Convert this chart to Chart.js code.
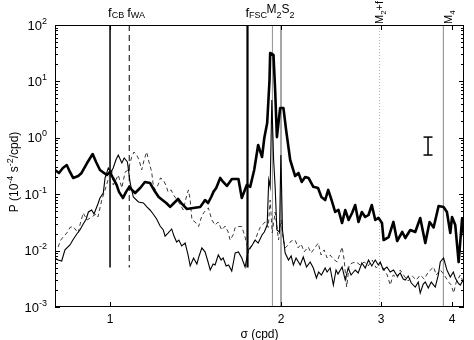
<!DOCTYPE html>
<html>
<head>
<meta charset="utf-8">
<script src="https://cdn.jsdelivr.net/npm/chart.js@4.4.1/dist/chart.umd.min.js"></script>
<style>
  html, body { margin: 0; padding: 0; background: #fff; }
  #wrap { width: 474px; height: 340px; }
</style>
</head>
<body>
<div id="wrap"><canvas id="spec" width="474" height="340"></canvas></div>
<script>
// ─── Spectra: frequency sigma (cpd) and power P ──────────────────────────────

const sigmaThick = [
  0.800, 0.813, 0.826, 0.839, 0.850, 0.861, 0.879, 0.891, 0.911, 0.932,
  0.945, 0.960, 0.987, 1.000, 1.012, 1.027, 1.037, 1.054, 1.067, 1.081,
  1.093, 1.107, 1.130, 1.152, 1.176, 1.195, 1.218, 1.243, 1.256, 1.276,
  1.296, 1.318, 1.339, 1.365, 1.401, 1.441, 1.458, 1.470, 1.488, 1.507,
  1.521, 1.538, 1.563, 1.582, 1.606, 1.639, 1.683, 1.706, 1.741, 1.765,
  1.794, 1.823, 1.852, 1.869, 1.891, 1.909, 1.914, 1.940, 1.953, 1.967,
  1.978, 1.993, 2.020, 2.042, 2.076, 2.118, 2.147, 2.175, 2.206, 2.236,
  2.280, 2.324, 2.356, 2.392, 2.422, 2.455, 2.491, 2.525, 2.562, 2.595,
  2.631, 2.668, 2.702, 2.738, 2.776, 2.814, 2.852, 2.890, 2.931, 2.970,
  3.012, 3.032, 3.094, 3.155, 3.203, 3.270, 3.310, 3.378, 3.447, 3.517,
  3.590, 3.653, 3.713, 3.789, 3.866, 3.919, 3.973, 4.001, 4.054, 4.110,
  4.167, 4.205,
];
const powerThick = [
  0.269, 0.238, 0.292, 0.329, 0.248, 0.194, 0.210, 0.238, 0.357, 0.516,
  0.372, 0.269, 0.219, 0.248, 0.194, 0.146, 0.110, 0.0856, 0.110, 0.135,
  0.119, 0.105, 0.129, 0.165, 0.158, 0.119, 0.0892, 0.0757, 0.0698, 0.0594,
  0.0698, 0.0822, 0.0671, 0.0547, 0.057, 0.0594, 0.0698, 0.0789, 0.0698, 0.0892,
  0.110, 0.129, 0.194, 0.165, 0.140, 0.186, 0.186, 0.0856, 0.146, 0.135,
  0.269, 0.745, 0.456, 0.992, 1.83, 10.6, 31.9, 29.4, 7.05, 1.03,
  1.69, 3.37, 3.37, 1.37, 0.404, 0.210, 0.238, 0.165, 0.202, 0.194,
  0.135, 0.129, 0.0892, 0.0789, 0.119, 0.0789, 0.0484, 0.0525, 0.0308, 0.0525,
  0.0349, 0.0465, 0.0644, 0.0322, 0.0484, 0.0394, 0.0428, 0.0644, 0.0349, 0.0379,
  0.0308, 0.0154, 0.0174, 0.0322, 0.0148, 0.0214, 0.0167, 0.0232, 0.0214, 0.0379,
  0.0136, 0.0322, 0.0257, 0.0618, 0.0594, 0.0484, 0.0205, 0.0394, 0.0284, 0.00627,
  0.0364, 0.0174,
];

const sigmaThin = [
  0.800, 0.810, 0.822, 0.833, 0.850, 0.860, 0.874, 0.885, 0.897, 0.908,
  0.916, 0.928, 0.937, 0.952, 0.960, 0.973, 0.980, 0.993, 1.004, 1.013,
  1.024, 1.034, 1.049, 1.059, 1.073, 1.085, 1.099, 1.122, 1.145, 1.161,
  1.176, 1.191, 1.208, 1.225, 1.241, 1.250, 1.265, 1.284, 1.296, 1.310,
  1.322, 1.337, 1.356, 1.372, 1.384, 1.403, 1.422, 1.435, 1.451, 1.470,
  1.488, 1.501, 1.519, 1.531, 1.551, 1.569, 1.582, 1.601, 1.617, 1.638,
  1.661, 1.683, 1.706, 1.729, 1.752, 1.776, 1.801, 1.823, 1.852, 1.869,
  1.891, 1.903, 1.914, 1.927, 1.941, 1.953, 1.967, 1.988, 1.999, 2.012,
  2.034, 2.062, 2.084, 2.103, 2.126, 2.162, 2.189, 2.218, 2.251, 2.280,
  2.309, 2.330, 2.356, 2.392, 2.411, 2.441, 2.473, 2.500, 2.520, 2.562,
  2.595, 2.626, 2.657, 2.702, 2.735, 2.776, 2.814, 2.852, 2.890, 2.931,
  2.967, 2.991, 3.028, 3.073, 3.114, 3.156, 3.204, 3.243, 3.283, 3.310,
  3.350, 3.392, 3.447, 3.489, 3.517, 3.560, 3.590, 3.634, 3.678, 3.738,
  3.784, 3.815, 3.866, 3.919, 3.973, 4.022, 4.054, 4.103, 4.137, 4.187,
];
const powerThin = [
  0.00740, 0.00681, 0.00654, 0.0103, 0.0126, 0.0154, 0.0197, 0.0232, 0.0296, 0.0364,
  0.0484, 0.0525, 0.0446, 0.0671, 0.0856, 0.105, 0.194, 0.292, 0.248, 0.292,
  0.404, 0.495, 0.357, 0.438, 0.372, 0.158, 0.0892, 0.0727, 0.0698, 0.0594,
  0.0525, 0.0446, 0.0364, 0.0273, 0.0232, 0.0181, 0.0205, 0.0242, 0.0181, 0.0142,
  0.0154, 0.0121, 0.0136, 0.00836, 0.00534, 0.00740, 0.00579, 0.00803, 0.0112, 0.00949,
  0.00628, 0.00453, 0.00579, 0.00556, 0.00836, 0.00681, 0.00740, 0.00534, 0.00556, 0.00435,
  0.00907, 0.00949, 0.00740, 0.00512, 0.0103, 0.0121, 0.0154, 0.0136, 0.0189, 0.0214,
  0.0284, 0.179, 0.135, 4.68, 0.404, 0.135, 0.0232, 0.0214, 0.495, 0.0232,
  0.00907, 0.00681, 0.00803, 0.00556, 0.00740, 0.00556, 0.00771, 0.00512, 0.00628, 0.00492,
  0.00327, 0.00417, 0.00369, 0.00492, 0.00417, 0.00492, 0.00245, 0.00453, 0.00384, 0.00512,
  0.00301, 0.00492, 0.00369, 0.00453, 0.00401, 0.00603, 0.00492, 0.00681, 0.00534, 0.00681,
  0.00556, 0.00628, 0.00453, 0.00512, 0.00417, 0.00453, 0.00354, 0.00401, 0.00313, 0.00301,
  0.00354, 0.00266, 0.00226, 0.00277, 0.00177, 0.00255, 0.00277, 0.00217, 0.00277, 0.00226,
  0.00369, 0.00628, 0.00740, 0.00453, 0.00340, 0.00417, 0.00327, 0.00266, 0.00245, 0.00301,
];

const sigmaDash = [
  0.810, 0.819, 0.827, 0.842, 0.850, 0.861, 0.879, 0.885, 0.897, 0.911,
  0.928, 0.945, 0.952, 0.967, 0.980, 0.992, 1.007, 1.013, 1.024, 1.034,
  1.049, 1.063, 1.076, 1.092, 1.102, 1.114, 1.125, 1.137, 1.148, 1.160,
  1.171, 1.184, 1.190, 1.200, 1.215, 1.227, 1.241, 1.256, 1.265, 1.281,
  1.293, 1.317, 1.346, 1.361, 1.374, 1.384, 1.394, 1.412, 1.432, 1.447,
  1.461, 1.476, 1.490, 1.511, 1.531, 1.550, 1.573, 1.595, 1.614, 1.627,
  1.647, 1.661, 1.683, 1.706, 1.729, 1.752, 1.770, 1.801, 1.823, 1.838,
  1.860, 1.876, 1.899, 1.914, 1.930, 1.953, 1.980, 2.001, 2.017, 2.034,
  2.059, 2.084, 2.118, 2.144, 2.170, 2.197, 2.233, 2.260, 2.280, 2.306,
  2.326, 2.353, 2.382, 2.411, 2.441, 2.471, 2.512, 2.562, 2.584, 2.610,
  2.637, 2.669, 2.713, 2.757, 2.803, 2.848, 2.895, 2.943, 2.991, 3.040,
  3.077, 3.114, 3.152, 3.204, 3.243, 3.296, 3.350, 3.405, 3.461, 3.517,
  3.575, 3.634, 3.713, 3.753, 3.815, 3.878, 3.945, 3.989, 4.027, 4.070,
  4.137, 4.187,
];
const powerDash = [
  0.0116, 0.0154, 0.0174, 0.0214, 0.0257, 0.0267, 0.0205, 0.0284, 0.0465, 0.0349,
  0.0394, 0.0446, 0.0394, 0.0789, 0.119, 0.179, 0.269, 0.146, 0.179, 0.219,
  0.129, 0.248, 0.269, 0.456, 0.560, 0.495, 0.404, 0.269, 0.404, 0.560,
  0.372, 0.248, 0.158, 0.119, 0.146, 0.194, 0.179, 0.140, 0.110, 0.119,
  0.0968, 0.0757, 0.0525, 0.0856, 0.119, 0.0789, 0.0349, 0.0322, 0.0267, 0.0379,
  0.0465, 0.0525, 0.0570, 0.0349, 0.0284, 0.0322, 0.0232, 0.0273, 0.0214, 0.0154,
  0.0189, 0.0257, 0.0267, 0.0267, 0.0174, 0.00907, 0.0116, 0.0154, 0.0214, 0.0257,
  0.0296, 0.0322, 0.0257, 0.0789, 0.0205, 0.0484, 0.0154, 0.0349, 0.0167, 0.0112,
  0.0126, 0.0148, 0.0154, 0.0112, 0.0131, 0.00949, 0.0116, 0.00907, 0.0103, 0.0121,
  0.0136, 0.00836, 0.0103, 0.00740, 0.00836, 0.00710, 0.00628, 0.0116, 0.00681, 0.00226,
  0.00556, 0.00603, 0.00628, 0.00556, 0.00628, 0.00534, 0.00681, 0.00492, 0.00603, 0.00453,
  0.00369, 0.00245, 0.00369, 0.00327, 0.00453, 0.00354, 0.00289, 0.00354, 0.00301, 0.00369,
  0.00313, 0.00417, 0.00512, 0.00369, 0.00453, 0.00369, 0.00277, 0.00245, 0.00177, 0.00277,
  0.00369, 0.00277,
];

// ─── Reference frequencies (cpd) ─────────────────────────────────────────────

const fCB = 1.0, fWA = 1.081, fFSC = 1.746;
const M2 = 1.932, S2 = 2.0, M2f = 2.982, M4 = 3.864;
const inertialBottom = 5e-3;   // lower end of the f markers

// typical confidence interval
const errSigma = 3.63;
const errRange = [0.495, 1.03];

// ─── Axes ────────────────────────────────────────────────────────────────────

const xMin = 0.8, xMax = 4.2;
const yMin = 1e-3, yMax = 1e2;
const xTicks = [1, 2, 3, 4];
const yTicks = [1e-3, 1e-2, 1e-1, 1e0, 1e1, 1e2];
const yTickExp = ["-3", "-2", "-1", "0", "1", "2"];

const FONT = "'Liberation Sans', Arial, Helvetica, sans-serif";

const zip = (xs, ys) => xs.map((x, i) => ({ x, y: ys[i] }));

// text with sub/superscript runs: parts = [[text, "" | "sup" | "sub"], ...]
function richText(ctx, parts, x, y, align, size = 12, small = 9, up = 5, down = 3) {
    const widths = parts.map(([t, k]) => {
        ctx.font = `${k ? small : size}px ${FONT}`;
        return ctx.measureText(t).width;
    });
    const total = widths.reduce((a, b) => a + b, 0);
    let cx = align === "center" ? x - total / 2 : align === "right" ? x - total : x;
    parts.forEach(([t, k], i) => {
        ctx.font = `${k ? small : size}px ${FONT}`;
        const dy = k === "sup" ? -up : k === "sub" ? down : 0;
        ctx.fillText(t, cx, y + dy);
        cx += widths[i];
    });
}

// MATLAB-style box: inward ticks on all four sides, labels, marker names
const axesFrame = {
    id: "axesFrame",
    afterDatasetsDraw(chart) {
        const { ctx, chartArea: a, scales: { x, y } } = chart;
        ctx.save();
        ctx.strokeStyle = "#000";
        ctx.fillStyle = "#000";
        ctx.lineWidth = 1;
        ctx.strokeRect(a.left + 0.5, a.top + 0.5, a.right - a.left - 1, a.bottom - a.top - 1);

        ctx.beginPath();
        for (let e = -3; e <= 2; e++) {
            for (let m = 1; m <= 9; m++) {
                const v = m * Math.pow(10, e);
                if (v > yMax) break;
                const py = Math.round(y.getPixelForValue(v)) + 0.5;
                const len = m === 1 ? 5 : 3;
                ctx.moveTo(a.left, py); ctx.lineTo(a.left + len, py);
                ctx.moveTo(a.right, py); ctx.lineTo(a.right - len, py);
            }
        }
        xTicks.forEach(t => {
            const px = Math.round(x.getPixelForValue(t)) + 0.5;
            ctx.moveTo(px, a.bottom); ctx.lineTo(px, a.bottom - 5);
            ctx.moveTo(px, a.top); ctx.lineTo(px, a.top + 5);
        });
        ctx.stroke();

        ctx.textBaseline = "alphabetic";
        yTicks.forEach((t, i) => {
            const py = y.getPixelForValue(t);
            richText(ctx, [["10", ""], [yTickExp[i], "sup"]], 47, py + 4.5, "right", 13, 9, 6);
        });
        xTicks.forEach(t => {
            richText(ctx, [[String(t), ""]], x.getPixelForValue(t), a.bottom + 16, "center", 12);
        });

        richText(ctx, [["\u03c3 (cpd)", ""]], (a.left + a.right) / 2, a.bottom + 31, "center", 12);

        ctx.save();
        ctx.translate(18, (a.top + a.bottom) / 2 + 6);
        ctx.rotate(-Math.PI / 2);
        richText(ctx, [["P (10", ""], ["-4", "sup"], [" s", ""], ["-2", "sup"], ["/cpd)", ""]],
                 0, 0, "center", 12, 9, 5);
        ctx.restore();

        // marker names above the box
        const fLabel = (f, sub) =>
            richText(ctx, [["f", ""], [sub, "sub"]], x.getPixelForValue(f) - 2, a.top - 8, "left", 13, 9, 0, 1);
        fLabel(fCB, "CB");
        fLabel(fWA, "WA");
        fLabel(fFSC, "FSC");
        richText(ctx, [["M", ""], ["2", "sub"], ["S", ""], ["2", "sub"]],
                 x.getPixelForValue(M2) - 6, a.top - 12, "left", 12, 9, 0, 5);

        const vLabel = (f, parts, dx) => {
            ctx.save();
            ctx.translate(x.getPixelForValue(f) + dx, a.top - 1);
            ctx.rotate(-Math.PI / 2);
            richText(ctx, parts, 0, 0, "left", 11, 8, 0, 3);
            ctx.restore();
        };
        vLabel(M2f, [["M", ""], ["2", "sub"], ["+f", ""]], 3);
        vLabel(M4, [["M", ""], ["4", "sub"]], 9);
        ctx.restore();
    },
};

const vline = (s, bottom, color, width, dash) => ({
    data: [{ x: s, y: yMax }, { x: s, y: bottom }],
    borderColor: color,
    borderWidth: width,
    borderDash: dash || [],
    pointRadius: 0,
});

new Chart(document.getElementById("spec"), {
    type: "line",
    data: {
        datasets: [
            {
                data: zip(sigmaThick, powerThick),
                borderColor: "#000",
                borderWidth: 2.6,
                borderJoinStyle: "round",
                pointRadius: 0,
            },
            {
                data: zip(sigmaThin, powerThin),
                borderColor: "#000",
                borderWidth: 1.1,
                pointRadius: 0,
            },
            {
                data: zip(sigmaDash, powerDash),
                borderColor: "#3a3a3a",
                borderWidth: 1,
                borderDash: [4, 3],
                pointRadius: 0,
            },
            {
                // error bar with short caps
                data: errRange.map(v => ({ x: errSigma, y: v })),
                borderColor: "#000",
                borderWidth: 1.5,
                pointStyle: "line",
                pointRadius: 4.5,
                pointBorderWidth: 1.5,
                pointBorderColor: "#000",
            },
            vline(fCB, inertialBottom, "#000", 1.5),
            vline(fWA, inertialBottom, "#000", 1, [6, 4]),
            vline(fFSC, inertialBottom, "#000", 2.2),
            vline(M2, yMin, "#9a9a9a", 1),
            vline(S2, yMin, "#9a9a9a", 1),
            vline(M2f, yMin, "#b5b5b5", 1, [1, 2]),
            vline(M4, yMin, "#9a9a9a", 1),
        ],
    },
    options: {
        responsive: false,
        animation: false,
        devicePixelRatio: 1,
        layout: { padding: { left: 55, right: 10, top: 25, bottom: 33 } },
        plugins: { legend: { display: false }, tooltip: { enabled: false } },
        elements: { line: { tension: 0 } },
        scales: {
            x: { type: "logarithmic", min: xMin, max: xMax, display: false },
            y: { type: "logarithmic", min: yMin, max: yMax, display: false },
        },
    },
    plugins: [axesFrame],
});
</script>
</body>
</html>
